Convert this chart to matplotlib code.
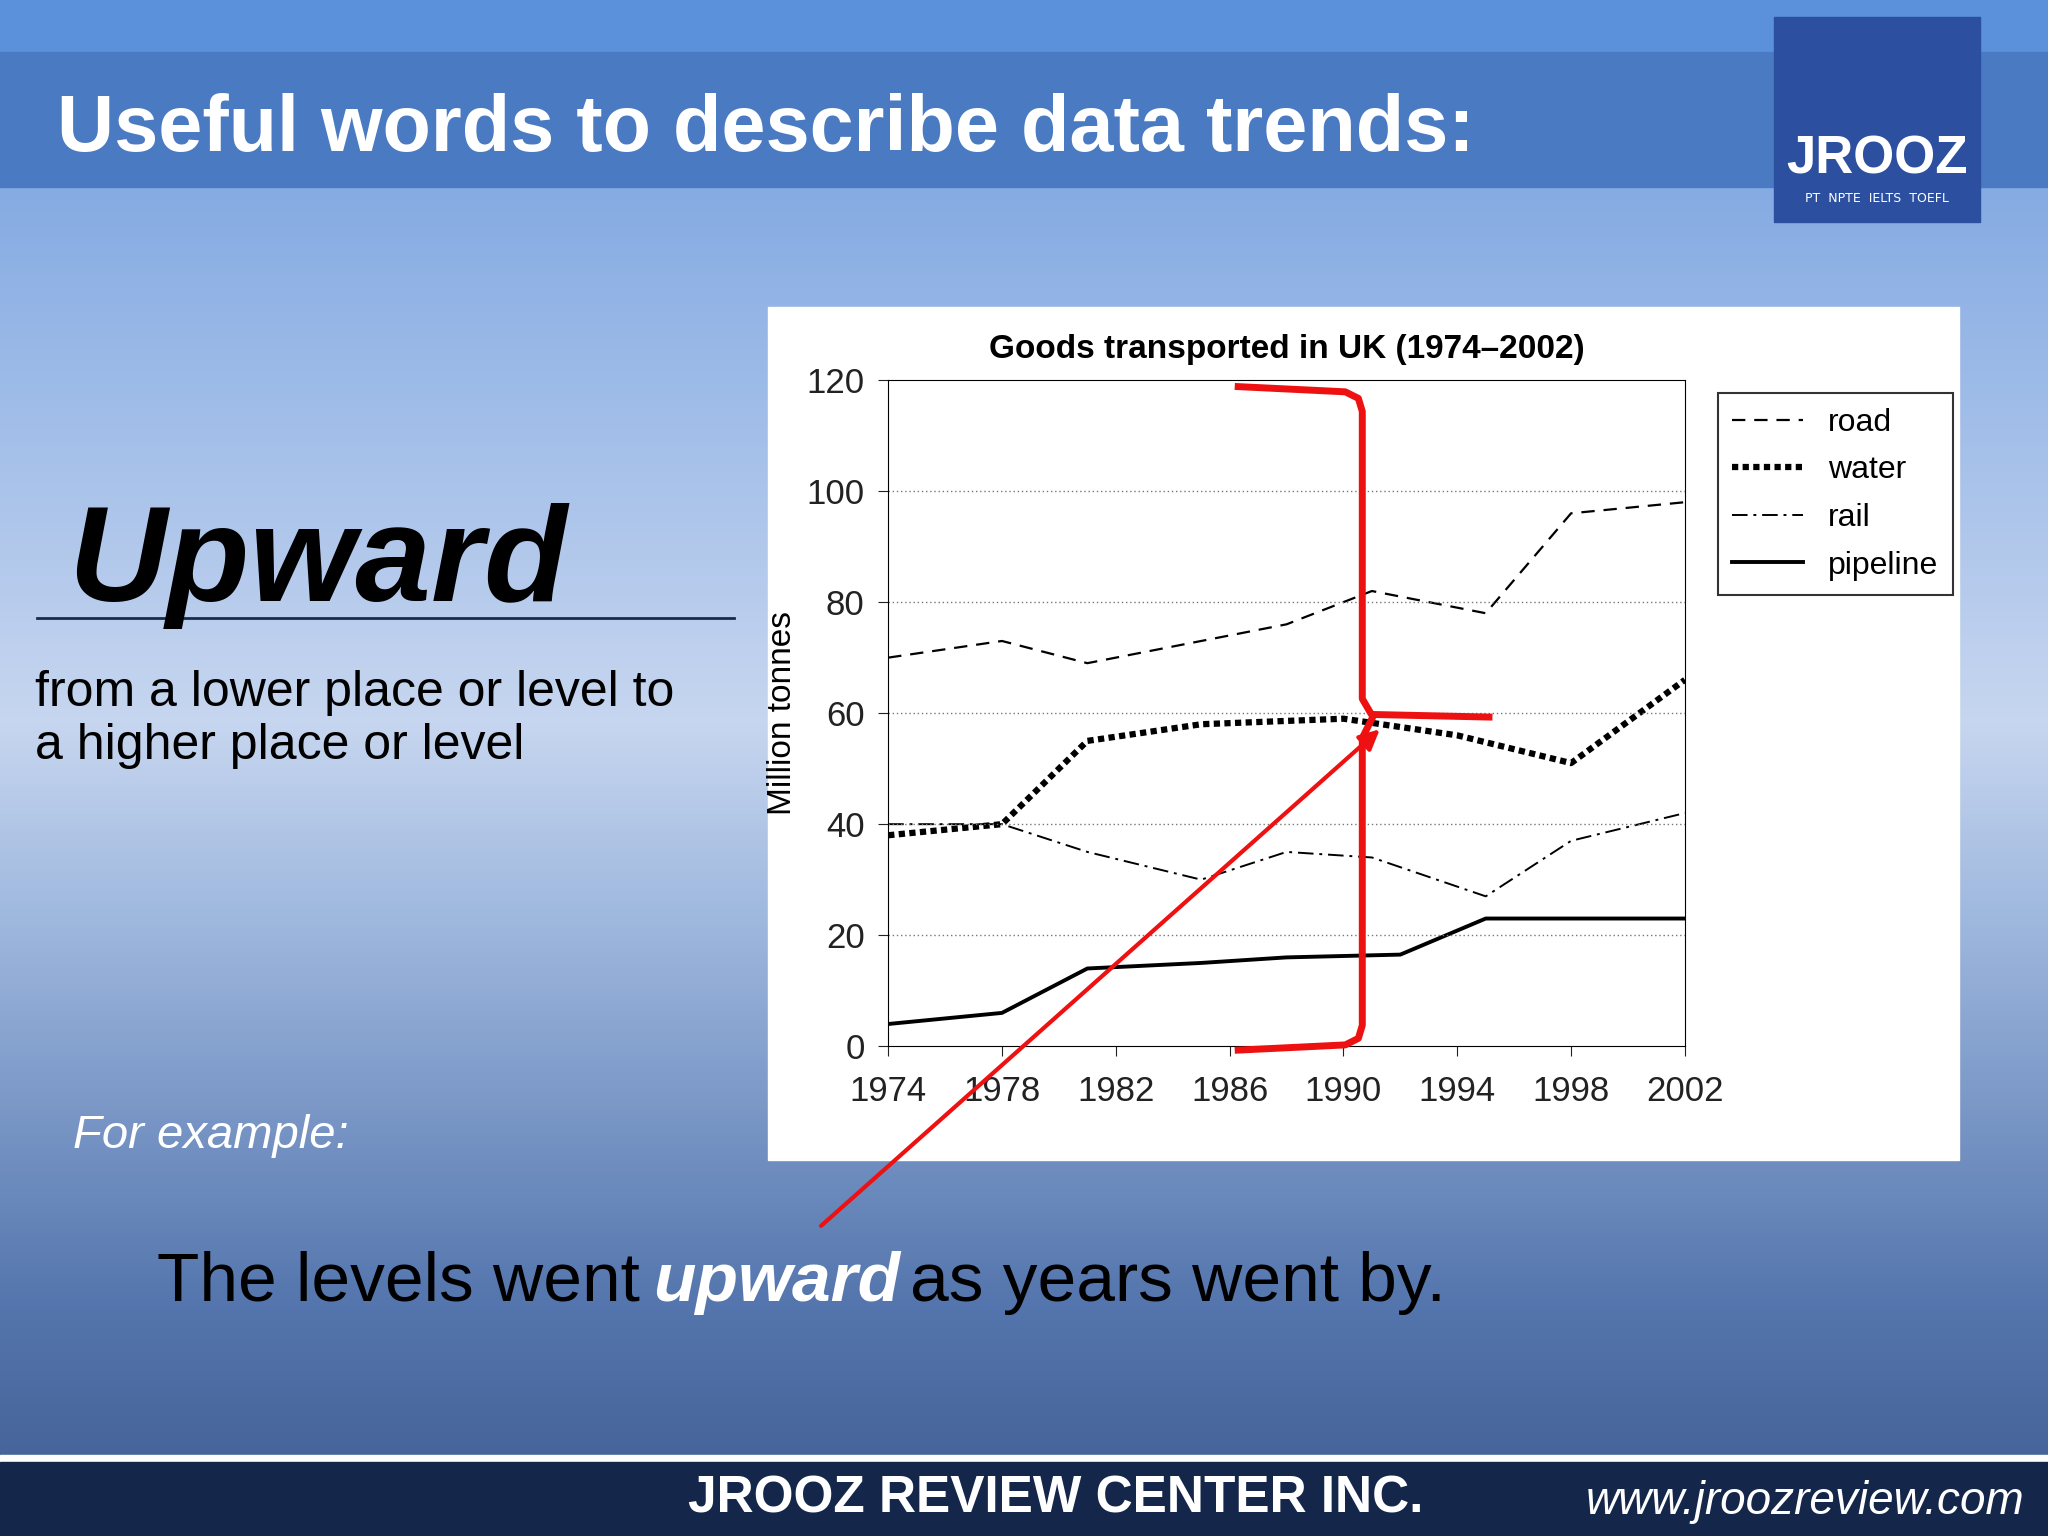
import matplotlib
matplotlib.use("Agg")
import matplotlib.pyplot as plt
import numpy as np
from matplotlib.patches import Rectangle
from matplotlib.lines import Line2D

years_road = [1974, 1978, 1981, 1986, 1988, 1991, 1995, 1998, 2002]
road = [70, 73, 69, 74, 76, 82, 78, 96, 98]
years_water = [1974, 1978, 1981, 1985, 1990, 1994, 1998, 2002]
water = [38, 40, 55, 58, 59, 56, 51, 66]
years_rail = [1974, 1978, 1981, 1985, 1988, 1991, 1995, 1998, 2002]
rail = [40, 40, 35, 30, 35, 34, 27, 37, 42]
years_pipe = [1974, 1978, 1981, 1985, 1988, 1992, 1995, 2002]
pipeline = [4, 6, 14, 15, 16, 16.5, 23, 23]
xticks = [1974, 1978, 1982, 1986, 1990, 1994, 1998, 2002]
yticks = [0, 20, 40, 60, 80, 100, 120]

W, H = 1568, 1176
def fx(x): return x / W
def fy(y): return 1 - y / H
LS = "Liberation Sans"

fig = plt.figure(figsize=(20.48, 15.36), dpi=100)

bg = fig.add_axes([0, 0, 1, 1], zorder=0); bg.axis("off")
stops_y = [0, 0.12, 0.47, 0.6, 0.85, 1.0]
cols = np.array([[0.45, 0.62, 0.87], [0.52, 0.67, 0.89], [0.78, 0.84, 0.94],
                 [0.62, 0.72, 0.87], [0.33, 0.46, 0.68], [0.25, 0.36, 0.56]])
ys = np.linspace(0, 1, 400)
grad = np.stack([np.interp(ys, stops_y, cols[:, i]) for i in range(3)], axis=1)
bg.imshow(grad[:, None, :], aspect="auto", extent=[0, 1, 0, 1], origin="upper")
bg.set_xlim(0, 1); bg.set_ylim(0, 1)
bg.add_patch(Rectangle((0, fy(40)), 1, 40 / H, color="#5b91db"))
bg.add_patch(Rectangle((0, fy(143)), 1, 103 / H, color="#4a7bc2"))
bg.add_patch(Rectangle((0, 0), 1, 62 / H, color="#ffffff"))
bg.add_patch(Rectangle((0, 0), 1, 57 / H, color="#14264a"))
bg.add_patch(Rectangle((fx(1358), fy(170)), 158 / W, 157 / H, color="#2c4fa0"))
bg.text(fx(1437), fy(122), "JROOZ", color="white", fontsize=38, fontweight="bold", ha="center", va="center", family=LS)
bg.text(fx(1437), fy(152), "PT  NPTE  IELTS  TOEFL", color="white", fontsize=9, ha="center", va="center")
bg.add_patch(Rectangle((fx(588), fy(888)), 912 / W, 653 / H, color="white"))

fig.text(fx(44), fy(100), "Useful words to describe data trends:", color="white",
         fontsize=57, fontweight="bold", va="center", family=LS)
fig.text(fx(52), fy(460), "Upward", fontsize=98, fontweight="bold", style="italic",
         family=LS, va="baseline")
bg.add_line(Line2D([fx(28), fx(562)], [fy(473), fy(473)], color="#1a2a4a", lw=2))
fig.text(fx(27), fy(551), "from a lower place or level to\na higher place or level", fontsize=36,
         family=LS, va="center", linespacing=1.2)
fig.text(fx(56), fy(870), "For example:", fontsize=34, style="italic", color="white",
         family=LS, va="center")
fig.text(fx(120), fy(982), "The levels went", fontsize=50, family=LS, va="center")
fig.text(fx(500), fy(982), "upward", fontsize=50, fontweight="bold", style="italic",
         color="white", family=LS, va="center")
fig.text(fx(697), fy(982), "as years went by.", fontsize=50, family=LS, va="center")
fig.text(fx(808), fy(1148), "JROOZ REVIEW CENTER INC.", fontsize=37, fontweight="bold", color="white",
         ha="center", va="center", family=LS)
fig.text(fx(1550), fy(1150), "www.jroozreview.com", fontsize=33, style="italic", color="white",
         ha="right", va="center", family=LS)

ax = fig.add_axes([fx(680), fy(801), (1290 - 680) / W, (801 - 291) / H], zorder=1)
ax.plot(years_road, road, color="black", lw=1.6, ls=(0, (6, 4)), label="road")
ax.plot(years_water, water, color="black", lw=4.5, ls=(0, (1, 0.7)), label="water")
ax.plot(years_rail, rail, color="black", lw=1.4, ls=(0, (8, 3, 1.5, 3)), label="rail")
ax.plot(years_pipe, pipeline, color="black", lw=2.8, label="pipeline")
ax.set_xlim(1974, 2002); ax.set_ylim(0, 120)
ax.set_xticks(xticks); ax.set_yticks(yticks)
ax.tick_params(labelsize=25, length=7, colors="#222")
ax.tick_params(axis="x", pad=14)
ax.tick_params(axis="y", pad=10)
for lab in ax.get_xticklabels() + ax.get_yticklabels():
    lab.set_family(LS)
for y in yticks[1:-1]:
    ax.axhline(y, color="#777", lw=1, ls=(0, (1, 2)))
ax.set_ylabel("Million tonnes", fontsize=24, family=LS, labelpad=6)
ax.set_title("Goods transported in UK (1974–2002)", fontsize=24, fontweight="bold", pad=16, family=LS)
leg = fig.legend(loc="upper left", bbox_to_anchor=(fx(1303), fy(289)), frameon=True,
                 fancybox=False, edgecolor="black", handlelength=2.2, borderpad=0.45, labelspacing=0.55,
                 prop={"family": LS, "size": 23})
leg.get_frame().set_linewidth(1.5)

ov = fig.add_axes([0, 0, 1, 1], zorder=5); ov.axis("off")
ov.set_xlim(0, 1); ov.set_ylim(0, 1); ov.patch.set_alpha(0)
red = "#ee1111"
ov.add_line(Line2D([fx(948), fx(1030), fx(1040), fx(1043), fx(1043), fx(1050), fx(1140)],
                   [fy(296), fy(300), fy(305), fy(315), fy(535), fy(547), fy(549)], color=red, lw=5))
ov.add_line(Line2D([fx(948), fx(1030), fx(1040), fx(1043), fx(1043), fx(1050)],
                   [fy(804), fy(800), fy(795), fy(785), fy(565), fy(551)], color=red, lw=5))
ov.annotate("", xy=(fx(1058), fy(557)), xytext=(fx(627), fy(940)),
            arrowprops=dict(arrowstyle="-|>", color=red, lw=3, mutation_scale=30))

fig.savefig("out.png", dpi=100)
